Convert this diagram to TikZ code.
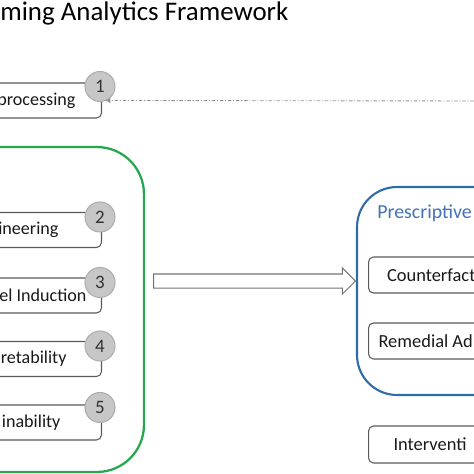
\documentclass[tikz,border=0pt]{standalone}
\usepackage{fontspec}
\setmainfont{Carlito}
\usepackage{tikz}
\usetikzlibrary{shapes.arrows, arrows.meta, positioning}

\definecolor{framegreen}{RGB}{40,167,80}
\definecolor{frameblue}{RGB}{47,107,166}
\definecolor{labelblue}{RGB}{68,114,180}

\tikzset{
  stagebox/.style={draw=black!65, line width=0.6pt, rounded corners=0.1cm,
    minimum height=0.7cm, inner ysep=0pt,
    font=\fontsize{10.3}{12}\selectfont, text=black!90},
  outcomebox/.style={stagebox, minimum height=0.72cm,
    font=\fontsize{10.5}{13}\selectfont},
  stepmark/.style={circle, fill=black!22, draw=black!32, line width=0.6pt,
    minimum size=0.6cm, inner sep=0pt, font=\fontsize{10.8}{12}\selectfont, text=black!80},
  feedbackline/.style={draw=black!42, line width=0.5pt,
    dash pattern=on 2pt off 1pt on 0.6pt off 1pt, -{Latex[length=3pt,width=3pt]}}
}

\begin{document}
\begin{tikzpicture}[x=0.02cm, y=-0.02cm]
  \useasboundingbox (0,0) rectangle (474,474);
  \clip (0,0) rectangle (474,474);

  % title
  \node[anchor=base west, inner sep=0pt, font=\fontsize{15.3}{18}\selectfont] (title) at (0,20) {ming Analytics Framework};

  % frames
  \node[draw=framegreen, line width=1.3pt, rounded corners=0.94cm,
    minimum width=6.88cm, minimum height=6.5cm] (analytics) at (-28,309.5) {};
  \node[draw=frameblue, line width=1.2pt, rounded corners=0.8cm,
    minimum width=6cm, minimum height=4.16cm] (prescriptive) at (507,291) {};
  \node[anchor=base west, inner sep=0pt, text=labelblue, font=\fontsize{11.3}{14}\selectfont] (prescriptivelabel) at (377,218) {Prescriptive};

  % stages on the left
  \node[stagebox, anchor=east, inner xsep=0.52cm] (prep) at (102,100.5) {processing};
  \node[stagebox, anchor=east, inner xsep=0.86cm] (feat) at (102,230) {ineering};
  \node[stagebox, anchor=east, inner xsep=0.3cm] (induct) at (102,295.5) {el Induction};
  \node[stagebox, anchor=east, inner xsep=0.7cm] (interp) at (102,359) {retability};
  \node[stagebox, anchor=east, inner xsep=0.82cm] (explain) at (102,422.5) {inability};

  % numbered marks
  \node[stepmark] (n1) at ([xshift=-0.04cm,yshift=-0.08cm]prep.north east) {1};
  \node[stepmark] (n2) at ([xshift=-0.04cm,yshift=-0.1cm]feat.north east) {2};
  \node[stepmark] (n3) at ([xshift=-0.04cm,yshift=-0.1cm]induct.north east) {3};
  \node[stepmark] (n4) at ([xshift=-0.04cm,yshift=-0.1cm]interp.north east) {4};
  \node[stepmark] (n5) at ([xshift=-0.04cm,yshift=-0.06cm]explain.north east) {5};

  % boxes on the right
  \node[outcomebox, anchor=west, inner xsep=0.37cm] (cf) at (368,275) {Counterfact};
  \node[outcomebox, anchor=west, inner xsep=0.2cm] (remedy) at (368,341) {Remedial Ad};
  \node[outcomebox, anchor=west, inner xsep=0.5cm, minimum height=0.74cm] (intervene) at (368,444.5) {Interventi};

  % hollow arrow
  \node[single arrow, draw=black!55, fill=white, line width=0.6pt,
    minimum height=4.04cm, inner xsep=0pt, inner ysep=0.13cm,
    single arrow head extend=0.12cm] (flow) at (251,281) {};

  % dotted feedback
  \coordinate (feedback) at (490,101);
  \draw[feedbackline] (feedback) -- ([xshift=0.06cm]prep.east);
\end{tikzpicture}
\end{document}
